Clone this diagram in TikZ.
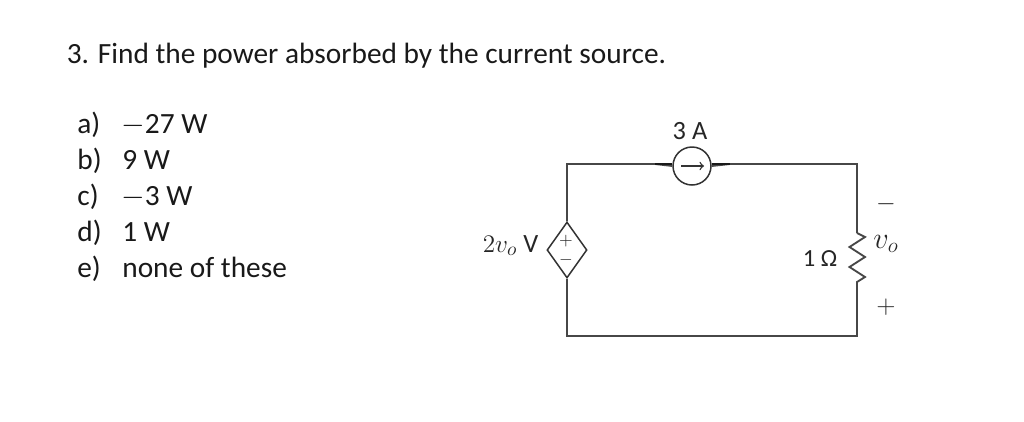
\documentclass[tikz,border=0pt]{standalone}
\usepackage{fontspec}
\setmainfont{Carlito}
\usetikzlibrary{shapes.geometric}
\tikzset{
  wire/.style={draw=black!72,line width=1.05pt},
  stub/.style={draw=black!90,line width=1.4pt},
  elem/.style={draw=black!80,line width=0.85pt,fill=white,inner sep=0pt},
  title/.style={anchor=base west,inner sep=0pt,font=\fontsize{16.7}{18}\selectfont,text=black!90},
  item/.style={anchor=base west,inner sep=0pt,font=\fontsize{16.7}{18}\selectfont,text=black!90},
  lbl/.style={inner sep=0pt,font=\fontsize{14}{16}\selectfont,text=black!85}
}
\begin{document}
\begin{tikzpicture}
\useasboundingbox (0,0) rectangle (20.48,-8.42);
\node[title] (head) at (1.33,-1.26) {3. Find the power absorbed by the current source.};
% answers
\node[item] (a) at (1.54,-2.67) {a)};
\node[item] (b) at (1.54,-3.39) {b)};
\node[item] (c) at (1.54,-4.11) {c)};
\node[item] (d) at (1.54,-4.83) {d)};
\node[item] (e) at (1.54,-5.55) {e)};
\node[item] (av) at (2.42,-2.67) {$-$27 W};
\node[item] (bv) at (2.44,-3.39) {9 W};
\node[item] (cv) at (2.42,-4.11) {$-$3 W};
\node[item] (dv) at (2.44,-4.83) {1 W};
\node[item] (ev) at (2.44,-5.55) {none of these};
% corners
\coordinate (tl) at (11.34,-3.28);
\coordinate (tr) at (17.14,-3.28);
\coordinate (bl) at (11.34,-6.72);
\coordinate (br) at (17.14,-6.72);
\coordinate (rtop) at (17.14,-4.66);
\coordinate (rbot) at (17.14,-5.64);
\coordinate (sl) at (13.1,-3.28);
\coordinate (sr) at (14.6,-3.28);
% elements
\node[elem,circle,minimum size=0.76cm] (src) at (13.84,-3.32) {};
\node[elem,diamond,minimum width=0.8cm,minimum height=1.12cm] (dep) at (11.34,-5) {};
\draw[wire] (src.west) -- (sl) -- (tl) -- (dep.north);
\draw[wire] (dep.south) -- (bl) -- (br) -- (rbot);
\draw[wire] (src.east) -- (sr) -- (tr) -- (rtop);
\draw[stub] (sl) -- (src.west |- sl);
\draw[stub] (src.east |- sr) -- (sr);
\draw[wire] (rtop) -- ++(0.16,-0.08) -- ++(-0.31,-0.2) -- ++(0.31,-0.2) -- ++(-0.31,-0.2) -- ++(0.31,-0.2) -- ++(-0.16,-0.1) -- (rbot);
\draw[black!80,line width=0.8pt,->] ([xshift=-0.22cm]src.center) -- ([xshift=0.24cm]src.center);
% labels
\node[lbl,font=\fontsize{15}{17}\selectfont] (srclbl) at (13.8,-2.63) {3 A};
\node[lbl,font=\fontsize{15}{17}\selectfont] (deplbl) at (10.21,-4.91) {$2v_o$ V};
\node[lbl,font=\fontsize{10}{12}\selectfont] (plus) at (11.32,-4.82) {$+$};
\node[lbl,font=\fontsize{10}{12}\selectfont] (minus) at (11.32,-5.21) {$-$};
\node[lbl] (rlbl) at (16.4,-5.17) {1 Ω};
\node[lbl,font=\fontsize{17}{19}\selectfont] (vlbl) at (17.72,-4.88) {$v_o$};
\node[lbl,font=\fontsize{15}{17}\selectfont] (vminus) at (17.72,-4.08) {$-$};
\node[lbl,font=\fontsize{15}{17}\selectfont] (vplus) at (17.72,-6.14) {$+$};
\end{tikzpicture}
\end{document}
